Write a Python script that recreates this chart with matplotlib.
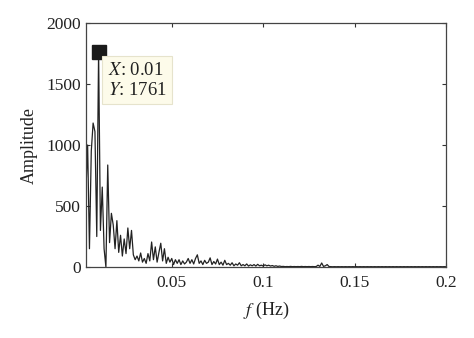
import numpy as np
import matplotlib.pyplot as plt

plt.rcParams['font.family'] = ['Liberation Serif', 'DejaVu Serif']
plt.rcParams['mathtext.fontset'] = 'stix'

# Spectrum data (frequency step 0.001 Hz, starting at 0.003 Hz)
f_start = 0.003
f_step = 0.001
amp = [600, 1000, 150, 950, 1180, 1110, 250, 1761, 300, 655,
       150, 0, 836, 200, 440, 345, 150, 380, 120, 260,
       90, 230, 110, 320, 150, 300, 100, 60, 90, 50,
       115, 40, 70, 30, 110, 50, 205, 60, 165, 40,
       120, 195, 50, 150, 30, 80, 40, 70, 20, 60,
       30, 60, 20, 50, 25, 40, 70, 30, 60, 25,
       70, 100, 30, 50, 20, 55, 30, 40, 75, 20,
       45, 25, 65, 20, 40, 15, 55, 20, 30, 15,
       35, 10, 25, 15, 35, 10, 20, 10, 25, 8,
       18, 10, 20, 8, 22, 10, 15, 8, 18, 10,
       15, 8, 12, 6, 10, 5, 8, 4, 5, 3,
       4, 3, 5, 3, 4, 3, 4, 3, 5, 3,
       4, 3, 4, 3, 4, 3, 4, 15, 5, 33,
       5, 10, 20, 4, 3, 2, 3, 2, 3, 2,
       3, 2, 3, 2, 3, 2, 3, 2, 3, 2,
       3, 2, 3, 2, 3, 2, 3, 2, 3, 2,
       3, 2, 3, 2, 3, 2, 3, 2, 3, 2,
       3, 2, 3, 2, 3, 2, 3, 2, 3, 2,
       3, 2, 3, 2, 3, 2, 3, 2, 3, 2,
       3, 2, 3, 2, 3, 2, 3, 2]
freq = f_start + f_step * np.arange(len(amp))

peak_x = 0.01
peak_y = 1761

fig = plt.figure(figsize=(4.74, 3.38), dpi=100)
ax = fig.add_axes([0.181, 0.210, 0.760, 0.722])

ax.plot(freq, amp, color='#222222', linewidth=0.9)
ax.plot(peak_x, peak_y, 's', color='#1a1a1a', markersize=10)

ax.set_xlim(0.003, 0.2)
ax.set_ylim(0, 2000)
ax.set_xticks([0.05, 0.1, 0.15, 0.2])
ax.set_xticklabels(['0.05', '0.1', '0.15', '0.2'])
ax.set_yticks([0, 500, 1000, 1500, 2000])
ax.tick_params(direction='in', top=True, right=True, labelsize=12.5,
               length=3, width=0.8, colors='#333333', labelcolor='#222222')
ax.tick_params(axis='x', pad=6)
for s in ax.spines.values():
    s.set_color('#444444')
    s.set_linewidth(0.9)

ax.set_xlabel(r'$f$ (Hz)', fontsize=13, color='#222222', labelpad=6)
ax.set_ylabel('Amplitude', fontsize=13, color='#222222', labelpad=6)

# Data tip
ax.text(0.0150, 1680, '$X$: 0.01\n$Y$: 1761', fontsize=13.5, color='#222222',
        va='top', ha='left', linespacing=1.2,
        bbox=dict(boxstyle='square,pad=0.3', facecolor='#fdfbea',
                  edgecolor='#e6e3cc', linewidth=0.8))

fig.savefig('out.png', dpi=100, facecolor='white')
